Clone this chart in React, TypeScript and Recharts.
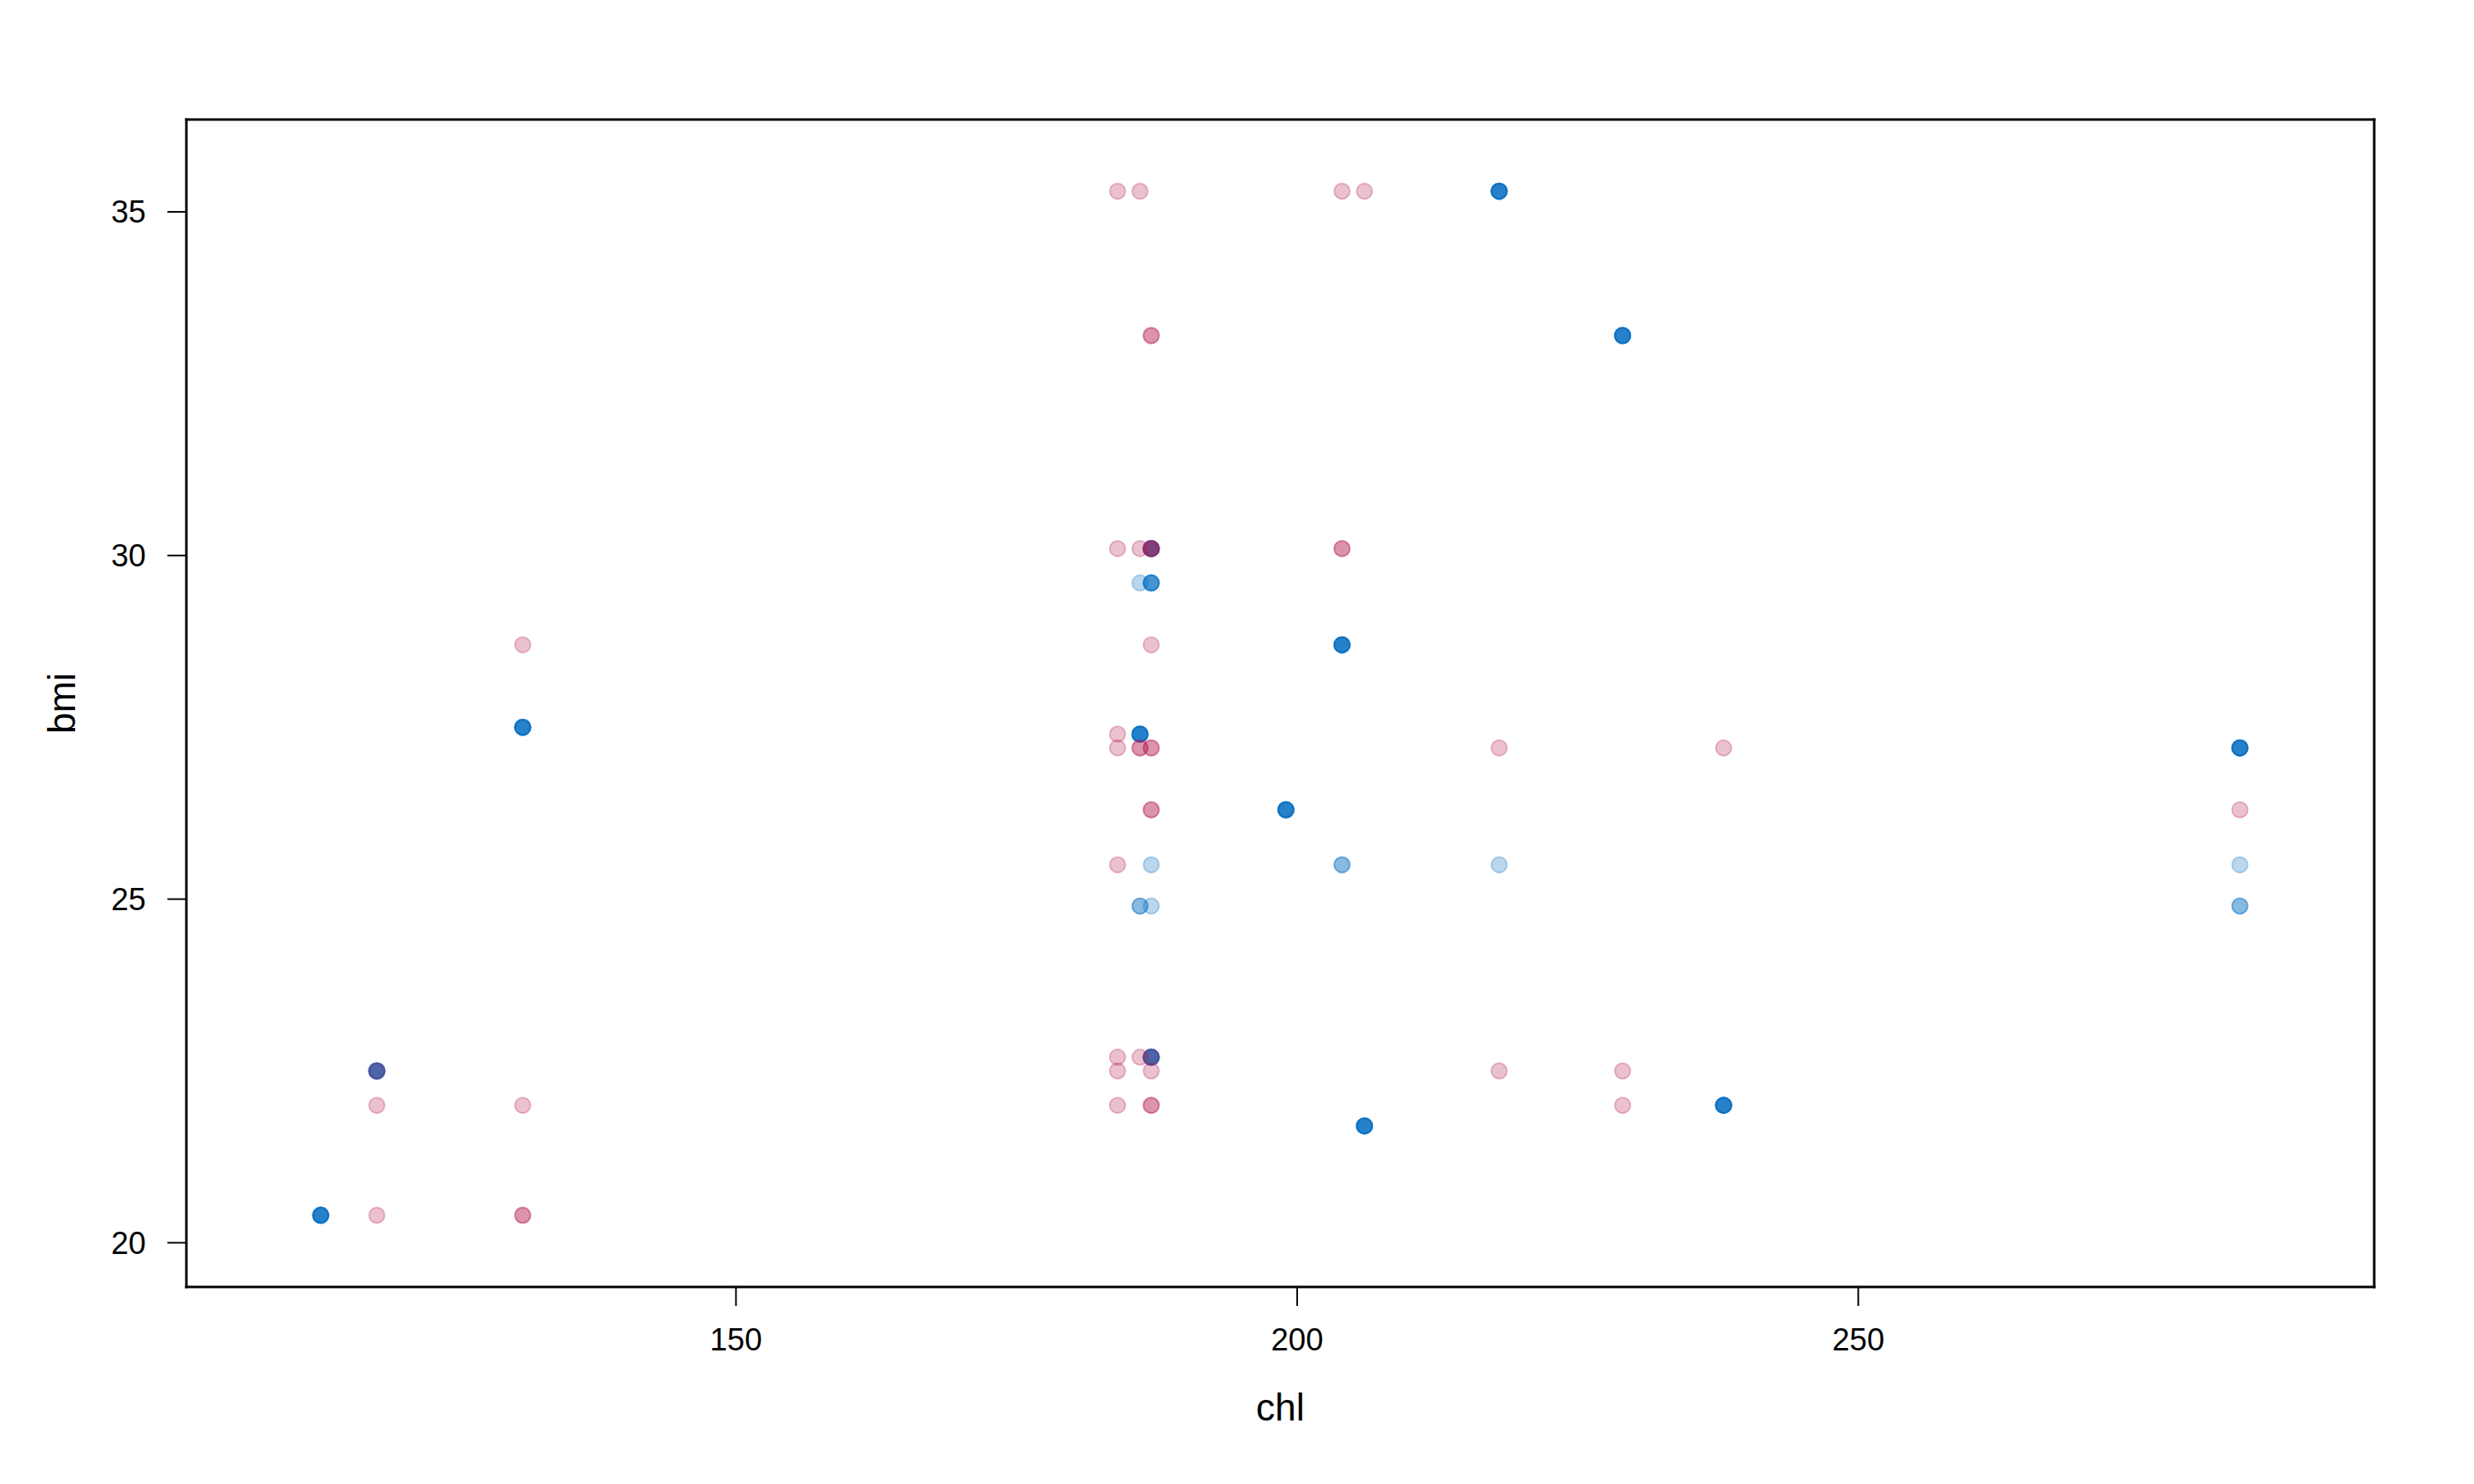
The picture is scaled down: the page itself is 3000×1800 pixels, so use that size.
import React from 'react';
import { ScatterChart, Scatter, XAxis, YAxis } from 'recharts';

const FONT = '"Liberation Sans", Arial, Helvetica, sans-serif';
const BLUE = '#006CC2';
const RED = '#B61A51';
const ALPHA = 0.27;

const chlTicks = [150, 200, 250];
const bmiTicks = [20, 25, 30, 35];
const chlDomain = [101.03, 295.97];
const bmiDomain = [19.357, 36.343];

// bmi observed (blue). n = number of stacked copies on that spot
const obsChl = [113, 118, 131, 186, 187, 187, 199, 204, 206, 218, 229, 238, 284, 186, 187, 187, 204, 218, 284, 186, 187, 284];
const obsBmi = [20.4, 22.5, 27.5, 27.4, 22.7, 30.1, 26.3, 28.7, 21.7, 35.3, 33.2, 22.0, 27.2, 29.6, 29.6, 25.5, 25.5, 25.5, 25.5, 24.9, 24.9, 24.9];
const obsN = [6, 6, 6, 6, 6, 6, 6, 6, 6, 6, 6, 6, 6, 1, 4, 1, 2, 1, 1, 2, 1, 2];

// bmi imputed (red)
const impChl = [184, 186, 204, 206, 187, 184, 186, 187, 204, 131, 187, 184, 184, 186, 187, 218, 238, 187, 284, 184, 184, 186, 187, 118, 184, 187, 218, 229, 118, 131, 184, 187, 229, 118, 131];
const impBmi = [35.3, 35.3, 35.3, 35.3, 33.2, 30.1, 30.1, 30.1, 30.1, 28.7, 28.7, 27.4, 27.2, 27.2, 27.2, 27.2, 27.2, 26.3, 26.3, 25.5, 22.7, 22.7, 22.7, 22.5, 22.5, 22.5, 22.5, 22.5, 22.0, 22.0, 22.0, 22.0, 22.0, 20.4, 20.4];
const impN = [1, 1, 1, 1, 2, 1, 1, 3, 2, 1, 1, 1, 1, 2, 2, 1, 1, 2, 1, 1, 1, 1, 1, 1, 1, 1, 1, 1, 1, 1, 1, 2, 1, 1, 2];

const obsData = obsChl.map((c, i) => ({ chl: c, bmi: obsBmi[i], n: obsN[i] }));
const impData = impChl.map((c, i) => ({ chl: c, bmi: impBmi[i], n: impN[i] }));

const makeDot = (color: string) => (props: any) => {
  const { cx, cy, payload } = props;
  const layers = [];
  for (let i = 0; i < payload.n; i++) {
    layers.push(
      <circle key={i} cx={cx} cy={cy} r={9.5} fill={color} fillOpacity={ALPHA}
        stroke={color} strokeOpacity={ALPHA} strokeWidth={2} />
    );
  }
  return <g>{layers}</g>;
};

const axisLine = { stroke: '#000', strokeWidth: 3, strokeLinecap: 'square' as const };
const tickLine = { stroke: '#000', strokeWidth: 2 };
const tickText = { fontSize: 38, fill: '#000', fontFamily: FONT };

const ChlTitle = (props: any) => {
  const { viewBox } = props;
  return (
    <text x={viewBox.x + viewBox.width / 2} y={viewBox.y + 162} textAnchor="middle"
      fontSize={46} fontFamily={FONT} fill="#000">chl</text>
  );
};

const BmiTitle = (props: any) => {
  const { viewBox } = props;
  const x = viewBox.x + viewBox.width - 135;
  const y = viewBox.y + viewBox.height / 2;
  return (
    <text x={x} y={y} transform={`rotate(-90, ${x}, ${y})`} textAnchor="middle"
      fontSize={46} fontFamily={FONT} fill="#000">bmi</text>
  );
};

export default function App() {
  return (
    <div style={{ position: 'absolute', left: 0, top: 0, background: '#fff' }}>
      <ScatterChart width={3000} height={1800} margin={{ top: 144, right: 120, bottom: 238, left: 225 }}>
        <XAxis xAxisId="bottom" type="number" dataKey="chl" domain={chlDomain} ticks={chlTicks}
          allowDataOverflow interval={0} height={1} tickSize={23} tickMargin={27}
          axisLine={axisLine} tickLine={tickLine} tick={tickText}
          label={{ content: ChlTitle }} />
        <XAxis xAxisId="top" orientation="top" type="number" dataKey="chl" domain={chlDomain} ticks={chlTicks}
          allowDataOverflow interval={0} height={1} tickSize={23}
          axisLine={axisLine} tickLine={tickLine} tick={false} />
        <YAxis yAxisId="left" type="number" dataKey="bmi" domain={bmiDomain} ticks={bmiTicks}
          allowDataOverflow interval={0} width={1} tickSize={23} tickMargin={26}
          axisLine={axisLine} tickLine={tickLine} tick={tickText}
          label={{ content: BmiTitle }} />
        <YAxis yAxisId="right" orientation="right" type="number" dataKey="bmi" domain={bmiDomain} ticks={bmiTicks}
          allowDataOverflow interval={0} width={1} tickSize={23}
          axisLine={axisLine} tickLine={tickLine} tick={false} />
        <Scatter data={obsData} xAxisId="bottom" yAxisId="left" shape={makeDot(BLUE)} isAnimationActive={false} />
        <Scatter data={impData} xAxisId="bottom" yAxisId="left" shape={makeDot(RED)} isAnimationActive={false} />
      </ScatterChart>
    </div>
  );
}
